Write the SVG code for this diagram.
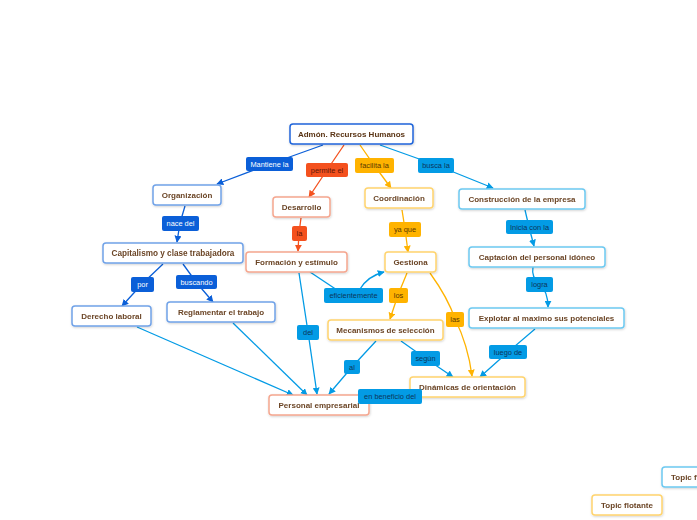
<svg xmlns="http://www.w3.org/2000/svg" width="697" height="520" viewBox="0 0 697 520">
<defs>
<style>
.n rect{fill:#fff;stroke-width:1.5}
.n text{font-family:"Liberation Sans",Arial,sans-serif;font-weight:bold;font-size:8px;fill:#6b4526;text-anchor:middle}
.b rect{stroke:#70a2e8}
.o rect{stroke:#f5a68f}
.y rect{stroke:#ffd46e}
.c rect{stroke:#6cc9f1}
.l text{font-family:"Liberation Sans",Arial,sans-serif;font-size:7.4px;text-anchor:middle}
.lb rect{fill:#0b5fd8}.lb text{fill:#ffffff}
.lo rect{fill:#f4511e}.lo text{fill:#5e1608}
.ly rect{fill:#ffb300}.ly text{fill:#5a3800}
.lc rect{fill:#039be5}.lc text{fill:#0b355a}
.e path{fill:none;stroke-width:1.3}
.eb{stroke:#0b5fd8}.eo{stroke:#f4511e}.ey{stroke:#ffb300}.ec{stroke:#039be5}
</style>
<marker id="ab" viewBox="0 0 10 10" refX="9" refY="5" markerWidth="7" markerHeight="7" markerUnits="userSpaceOnUse" orient="auto"><path d="M0,0L10,5L0,10z" fill="#0b5fd8"/></marker>
<marker id="ao" viewBox="0 0 10 10" refX="9" refY="5" markerWidth="7" markerHeight="7" markerUnits="userSpaceOnUse" orient="auto"><path d="M0,0L10,5L0,10z" fill="#f4511e"/></marker>
<marker id="ay" viewBox="0 0 10 10" refX="9" refY="5" markerWidth="7" markerHeight="7" markerUnits="userSpaceOnUse" orient="auto"><path d="M0,0L10,5L0,10z" fill="#ffb300"/></marker>
<marker id="ac" viewBox="0 0 10 10" refX="9" refY="5" markerWidth="7" markerHeight="7" markerUnits="userSpaceOnUse" orient="auto"><path d="M0,0L10,5L0,10z" fill="#039be5"/></marker>
<filter id="sh" x="-10%" y="-30%" width="120%" height="160%"><feDropShadow dx="0.5" dy="1" stdDeviation="0.8" flood-color="#000" flood-opacity="0.18"/></filter>
</defs>
<rect width="697" height="520" fill="#ffffff"/>

<g id="connectors" class="e">
<path class="eb" d="M323,145 L270,164 L217,184" marker-end="url(#ab)"/>
<path class="eb" d="M185,206 L180,223 L177,242" marker-end="url(#ab)"/>
<path class="eb" d="M163,264 L142,284 L122,306" marker-end="url(#ab)"/>
<path class="eb" d="M183,264 L196,282 L213,302" marker-end="url(#ab)"/>
<path class="eo" d="M344,145 L327,170 L309,197" marker-end="url(#ao)"/>
<path class="eo" d="M301,218 L299,233 L298,251" marker-end="url(#ao)"/>
<path class="ey" d="M360,145 L374,165 L391,188" marker-end="url(#ay)"/>
<path class="ey" d="M402,210 L405,229 L408,252" marker-end="url(#ay)"/>
<path class="ey" d="M407,273 L398,295 L390,319" marker-end="url(#ay)"/>
<path class="ey" d="M430,273 Q448,298 455,319 Q468,345 472,376" marker-end="url(#ay)"/>
<path class="ec" d="M380,145 L436,165 L493,188" marker-end="url(#ac)"/>
<path class="ec" d="M525,210 L529,227 L534,246" marker-end="url(#ac)"/>
<path class="ec" d="M533,267 Q531,278 540,284 Q548,292 548,307" marker-end="url(#ac)"/>
<path class="ec" d="M535,329 L508,352 L480,377" marker-end="url(#ac)"/>
<path class="ec" d="M401,341 L425,358 L453,377" marker-end="url(#ac)"/>
<path class="ec" d="M376,341 L352,367 L329,394" marker-end="url(#ac)"/>
<path class="ec" d="M299,273 L308,332 L317,394" marker-end="url(#ac)"/>
<path class="ec" d="M310,272 L340,292"/>
<path class="ec" d="M360,289 Q368,276 384,272" marker-end="url(#ac)"/>
<path class="ec" d="M137,327 L293,395" marker-end="url(#ac)"/>
<path class="ec" d="M233,323 L307,395" marker-end="url(#ac)"/>
</g>

<g id="n-root" class="n" filter="url(#sh)"><rect x="290" y="124" width="123" height="20" rx="3" style="stroke:#1f64da"/><text x="351.5" y="137" style="fill:#5a3414">Admón. Recursos Humanos</text></g>
<g id="n-organizacion" class="n b" filter="url(#sh)"><rect x="153" y="185" width="68" height="20" rx="3"/><text x="187" y="198">Organización</text></g>
<g id="n-capitalismo" class="n b" filter="url(#sh)"><rect x="103" y="243" width="140" height="20" rx="3"/><text x="173" y="256" style="font-size:8.2px">Capitalismo y clase trabajadora</text></g>
<g id="n-derecho" class="n b" filter="url(#sh)"><rect x="72" y="306" width="79" height="20" rx="3"/><text x="111.5" y="319">Derecho laboral</text></g>
<g id="n-reglamentar" class="n b" filter="url(#sh)"><rect x="167" y="302" width="108" height="20" rx="3"/><text x="221" y="315">Reglamentar el trabajo</text></g>
<g id="n-desarrollo" class="n o" filter="url(#sh)"><rect x="273" y="197" width="57" height="20" rx="3"/><text x="301.5" y="210">Desarrollo</text></g>
<g id="n-formacion" class="n o" filter="url(#sh)"><rect x="246" y="252" width="101" height="20" rx="3"/><text x="296.5" y="265">Formación y estímulo</text></g>
<g id="n-personal" class="n o" filter="url(#sh)"><rect x="269" y="395" width="100" height="20" rx="3"/><text x="319" y="408">Personal empresarial</text></g>
<g id="n-coordinacion" class="n y" filter="url(#sh)"><rect x="365" y="188" width="68" height="20" rx="3"/><text x="399" y="201">Coordinación</text></g>
<g id="n-gestiona" class="n y" filter="url(#sh)"><rect x="385" y="252" width="51" height="20" rx="3"/><text x="410.5" y="265">Gestiona</text></g>
<g id="n-mecanismos" class="n y" filter="url(#sh)"><rect x="328" y="320" width="115" height="20" rx="3"/><text x="385.5" y="333">Mecanismos de selección</text></g>
<g id="n-dinamicas" class="n y" filter="url(#sh)"><rect x="410" y="377" width="115" height="20" rx="3"/><text x="467.5" y="390">Dinámicas de orientación</text></g>
<g id="n-construccion" class="n c" filter="url(#sh)"><rect x="459" y="189" width="126" height="20" rx="3"/><text x="522" y="202">Construcción de la empresa</text></g>
<g id="n-captacion" class="n c" filter="url(#sh)"><rect x="469" y="247" width="136" height="20" rx="3"/><text x="537" y="260">Captación del personal idóneo</text></g>
<g id="n-explotar" class="n c" filter="url(#sh)"><rect x="469" y="308" width="155" height="20" rx="3"/><text x="546.5" y="321">Explotar al maximo sus potenciales</text></g>
<g id="n-float1" class="n c" filter="url(#sh)"><rect x="662" y="467" width="70" height="20" rx="3"/><text x="697" y="480">Topic flotante</text></g>
<g id="n-float2" class="n y" filter="url(#sh)"><rect x="592" y="495" width="70" height="20" rx="3"/><text x="627" y="508">Topic flotante</text></g>

<g id="labels" class="l">
<g class="lb"><rect x="246" y="157" width="47" height="14" rx="2"/><text x="269.5" y="166.5">Mantiene la</text></g>
<g class="lb"><rect x="162" y="216" width="37" height="15" rx="2"/><text x="180.5" y="226">nace del</text></g>
<g class="lb"><rect x="131" y="277" width="23" height="15" rx="2"/><text x="142.5" y="287">por</text></g>
<g class="lb"><rect x="176" y="275" width="41" height="14" rx="2"/><text x="196.5" y="284.5">buscando</text></g>
<g class="lo"><rect x="306" y="163" width="42" height="14" rx="2"/><text x="327" y="172.5">permite el</text></g>
<g class="lo"><rect x="292" y="226" width="15" height="15" rx="2"/><text x="299.5" y="236">la</text></g>
<g class="ly"><rect x="355" y="158" width="39" height="15" rx="2"/><text x="374.5" y="168">facilita la</text></g>
<g class="ly"><rect x="389" y="222" width="32" height="15" rx="2"/><text x="405" y="232">ya que</text></g>
<g class="ly"><rect x="389" y="288" width="19" height="15" rx="2"/><text x="398.5" y="298">los</text></g>
<g class="ly"><rect x="446" y="312" width="18" height="15" rx="2"/><text x="455" y="322">las</text></g>
<g class="lc"><rect x="418" y="158" width="36" height="15" rx="2"/><text x="436" y="168">busca la</text></g>
<g class="lc"><rect x="506" y="220" width="47" height="14" rx="2"/><text x="529.5" y="229.5">Inicia con la</text></g>
<g class="lc"><rect x="526" y="277" width="27" height="15" rx="2"/><text x="539.5" y="287">logra</text></g>
<g class="lc"><rect x="489" y="345" width="38" height="14" rx="2"/><text x="508" y="354.5">luego de</text></g>
<g class="lc"><rect x="411" y="351" width="29" height="15" rx="2"/><text x="425.5" y="361">según</text></g>
<g class="lc"><rect x="344" y="360" width="16" height="14" rx="2"/><text x="352" y="369.5">al</text></g>
<g class="lc"><rect x="297" y="325" width="22" height="15" rx="2"/><text x="308" y="335">del</text></g>
<g class="lc"><rect x="324" y="288" width="59" height="15" rx="2"/><text x="353.5" y="298">eficientemente</text></g>
<g class="lc"><rect x="358" y="389" width="64" height="15" rx="2"/><text x="390" y="399">en beneficio del</text></g>
</g>
</svg>
